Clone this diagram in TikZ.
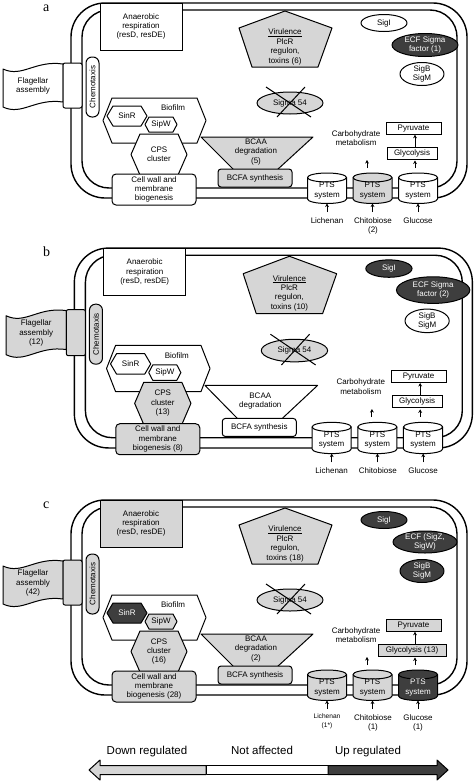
\documentclass[tikz,border=0pt]{standalone}
\usepackage{fontspec}
\setmainfont{Liberation Sans}
\newfontfamily\serifpanel{Liberation Serif}
\usetikzlibrary{arrows.meta}
\definecolor{lightg}{RGB}{214,214,214}
\definecolor{darkg}{RGB}{62,62,62}
\tikzset{
 st0/.style={fill=white,text=black},
 st1/.style={fill=lightg,text=black},
 st2/.style={fill=darkg,text=white},
 memb/.style={draw=black,line width=1.4pt},
 shp/.style={draw=black,line width=1pt,line join=round},
 lbl/.style={font=\fontsize{8}{9.4}\selectfont,align=center,inner sep=0pt},
 boxn/.style={lbl,draw=black,line width=1pt},
 arr/.style={-{Stealth[length=3.5pt,width=3.8pt]},line width=0.9pt},
 legtxt/.style={font=\fontsize{11.5}{13}\selectfont,inner sep=0pt,anchor=base},
 plet/.style={font=\serifpanel\fontsize{14}{16}\selectfont,inner sep=0pt,anchor=base west},
}
\newcommand\hexa[6]{%
 \path[shp,#1] (#2,{(#4+#5)/2}) -- ({#2+#6},#4) -- ({#3-#6},#4) -- (#3,{(#4+#5)/2}) -- ({#3-#6},#5) -- ({#2+#6},#5) -- cycle;}
\newcommand\ptscyl[3]{%
 \path[shp,#2] ({#1-19.5},177.5) -- ({#1-19.5},199)
   .. controls ({#1-19.5},201.5) and ({#1-10.8},203.5) .. (#1,203.5)
   .. controls ({#1+10.8},203.5) and ({#1+19.5},201.5) .. ({#1+19.5},199)
   -- ({#1+19.5},177.5)
   .. controls ({#1+19.5},175) and ({#1+10.8},173) .. (#1,173)
   .. controls ({#1-10.8},173) and ({#1-19.5},175) .. ({#1-19.5},177.5) -- cycle;
 \draw[shp] ({#1-19.5},177.5) .. controls ({#1-19.5},180) and ({#1-10.8},182) .. (#1,182)
   .. controls ({#1+10.8},182) and ({#1+19.5},180) .. ({#1+19.5},177.5);
 \node[lbl,#2,fill=none] (#3) at (#1,190.5) {PTS\\system};
 \coordinate (#3-bot) at (#1,203.5);
}
\newcommand\cellpanel{%
 \draw[memb,rounded corners=34pt] (71,3) rectangle (467,198);
 \draw[memb,rounded corners=27pt] (82,10) rectangle (457,188);
 % flagellar assembly
 \path[shp,zFl] (3,69) .. controls (22,78) and (35,60) .. (63,64) -- (63,102) .. controls (35,98) and (22,116) .. (3,107) -- cycle;
 \node[lbl,zFl,fill=none] (flag) at (33,86) {\tFl};
 \path[shp,zFl,rounded corners=2pt] (63,63) rectangle (82,108);
 \node[boxn,zCh,rounded corners=6pt,rotate=90,minimum width=60pt,minimum height=13pt] (chemo) at (92.5,87) {Chemotaxis};
 % anaerobic
 \node[boxn,zAn,minimum width=82pt,minimum height=47pt] (an) at (141,26.5) {Anaerobic\\respiration\\(resD, resDE)};
 % virulence
 \path[shp,zVi] (285,11) -- (332,28) -- (318,67) -- (252,67) -- (239,28) -- cycle;
 \node[lbl,zVi,fill=none] (vir) at (285,47) {\underline{Virulence}\\PlcR\\regulon,\\\tVi};
 % sigma factors
 \path[shp,zSI] (384,23) ellipse [x radius=23,y radius=8.5];
 \node[lbl,zSI,fill=none] (sigi) at (384,23) {SigI};
 \path[shp,zEC] (\ecfx,\ecfy) ellipse [x radius=\ecfrx,y radius=\ecfry];
 \node[lbl,zEC,fill=none] (ecf) at (\ecfx,\ecfy) {\tEC};
 \path[shp,zSB] (422,74) ellipse [x radius=22,y radius=11.5];
 \node[lbl,zSB,fill=none] (sigbm) at (422,74) {SigB\\SigM};
 \path[shp,zS5] (290,103) ellipse [x radius=33,y radius=11];
 \node[lbl,zS5,fill=none] (sig54) at (290,103) {Sigma 54};
 \coordinate (xa1) at (266,87); \coordinate (xa2) at (311,117);
 \coordinate (xb1) at (305,87); \coordinate (xb2) at (277,117);
 \draw[shp] (xa1) -- (xa2);
 \draw[shp] (xb1) -- (xb2);
 % biofilm
 \hexa{zBf}{103}{206}{98}{143}{9}
 \node[lbl,zBf,fill=none] (bio) at (173,108) {Biofilm};
 \hexa{zSR}{107}{147}{106}{126}{6}
 \node[lbl,zSR,fill=none] (sinr) at (127,116) {SinR};
 \hexa{zSW}{145}{177}{117}{132}{4}
 \node[lbl,zSW,fill=none] (sipw) at (161,124.5) {SipW};
 \hexa{zCP}{131}{187}{134}{175}{9}
 \node[lbl,zCP,fill=none] (cps) at (159,154.5) {\tCP};
 \node[boxn,zCW,rounded corners=4pt,minimum width=84pt,minimum height=31pt] (cw) at (154,189.5) {Cell wall and\\membrane\\\tCW};
 % BCAA / BCFA
 \path[shp,zBA] (201,137) -- (313,137) -- (277,170) -- (234,170) -- cycle;
 \node[lbl,zBA,fill=none] (bcaa) at (256,152) {\tBA};
 \node[boxn,zBF,rounded corners=3pt,minimum width=74pt,minimum height=18pt] (bcfa) at (255,178) {BCFA synthesis};
 % carbohydrate metabolism
 \node[lbl] (carb) at (356,138) {Carbohydrate\\metabolism};
 \node[boxn,zPy,minimum width=55pt,minimum height=11.5pt] (pyr) at (413.5,128.5) {Pyruvate};
 \node[boxn,zGl,minimum width=\wGl,minimum height=12pt] (gly) at (\xGl,153) {\tGl};
 % PTS systems
 \ptscyl{327}{zPL}{ptsl}
 \ptscyl{372.5}{zPC}{ptsc}
 \ptscyl{418}{zPG}{ptsg}
 \coordinate (ca) at (367,168); \coordinate (cb) at (367,160);
 \coordinate (ga) at (415,168);
 \draw[arr] (ca) -- (cb);
 \draw[arr,shorten >=1pt] (ga) -- (ga |- gly.south);
 \draw[arr] (ga |- gly.north) -- (ga |- pyr.south);
 % substrates
 \node[lbl,zLi,anchor=north] (lich) at (327,217) {\tLi};
 \node[lbl,anchor=north] (chit) at (373,217) {\tCh};
 \node[lbl,anchor=north] (gluc) at (418,217) {\tGu};
 \draw[arr] ([yshift=5pt]lich.north -| ptsl-bot) -- (ptsl-bot);
 \draw[arr] ([yshift=5pt]chit.north -| ptsc-bot) -- (ptsc-bot);
 \draw[arr] ([yshift=5pt]gluc.north -| ptsg-bot) -- (ptsg-bot);
}
\begin{document}
\begin{tikzpicture}[x=1pt,y=-1pt]
\useasboundingbox (0,0) rectangle (474,782);
% ---------------- panel a
\tikzset{zAn/.style=st0,zFl/.style=st0,zCh/.style=st0,zVi/.style=st1,zSI/.style=st0,
 zEC/.style=st2,zSB/.style=st0,zS5/.style=st1,zBf/.style=st0,zSR/.style=st0,zSW/.style=st0,
 zCP/.style=st0,zCW/.style=st0,zBA/.style=st1,zBF/.style=st1,zPy/.style=st0,zGl/.style=st0,
 zPL/.style=st0,zPC/.style=st1,zPG/.style=st0,zLi/.style={}}
\def\tFl{Flagellar\\assembly}\def\tVi{toxins (6)}\def\tEC{ECF Sigma\\factor (1)}
\def\tCP{CPS\\cluster}\def\tCW{biogenesis}\def\tBA{BCAA\\degradation\\(5)}
\def\tGl{Glycolysis}\def\wGl{50pt}\def\xGl{412}
\def\tLi{Lichenan}\def\tCh{Chitobiose\\(2)}\def\tGu{Glucose}
\def\ecfx{425}\def\ecfy{45}\def\ecfrx{33}\def\ecfry{11.5}
\begin{scope}[name prefix=a-]
\cellpanel
\end{scope}
% ---------------- panel b
\tikzset{zAn/.style=st0,zFl/.style=st1,zCh/.style=st1,zVi/.style=st1,zSI/.style=st2,
 zEC/.style=st2,zSB/.style=st0,zS5/.style=st1,zBf/.style=st0,zSR/.style=st0,zSW/.style=st0,
 zCP/.style=st1,zCW/.style=st1,zBA/.style=st0,zBF/.style=st0,zPy/.style=st0,zGl/.style=st0,
 zPL/.style=st0,zPC/.style=st0,zPG/.style=st0,zLi/.style={}}
\def\tFl{Flagellar\\assembly\\(12)}\def\tVi{toxins (10)}\def\tEC{ECF Sigma\\factor (2)}
\def\tCP{CPS\\cluster\\(13)}\def\tCW{biogenesis (8)}\def\tBA{BCAA\\degradation}
\def\tGl{Glycolysis}\def\wGl{50pt}\def\xGl{412}
\def\tLi{Lichenan}\def\tCh{Chitobiose}\def\tGu{Glucose}
\def\ecfx{428}\def\ecfy{44}\def\ecfrx{36.5}\def\ecfry{13}
\begin{scope}[shift={(3,245)},xscale=1.005,yscale=1.025,name prefix=b-]
\cellpanel
\end{scope}
% ---------------- panel c
\tikzset{zAn/.style=st1,zFl/.style=st1,zCh/.style=st1,zVi/.style=st1,zSI/.style=st2,
 zEC/.style=st2,zSB/.style=st2,zS5/.style=st1,zBf/.style=st0,zSR/.style=st2,zSW/.style=st1,
 zCP/.style=st1,zCW/.style=st1,zBA/.style=st1,zBF/.style=st1,zPy/.style=st1,zGl/.style=st1,
 zPL/.style=st1,zPC/.style=st1,zPG/.style=st2,zLi/.style={font=\fontsize{6.6}{8.6}\selectfont}}
\def\tFl{Flagellar\\assembly\\(42)}\def\tVi{toxins (18)}\def\tEC{ECF (SigZ,\\SigW)}
\def\tCP{CPS\\cluster\\(16)}\def\tCW{biogenesis (28)}\def\tBA{BCAA\\degradation\\(2)}
\def\tGl{Glycolysis (13)}\def\wGl{68pt}\def\xGl{412}
\def\tLi{Lichenan\\(1*)}\def\tCh{Chitobiose\\(1)}\def\tGu{Glucose\\(1)}
\def\ecfx{425}\def\ecfy{45}\def\ecfrx{32}\def\ecfry{11}
\begin{scope}[shift={(0,497)},name prefix=c-]
\cellpanel
\end{scope}
% ---------------- panel letters
\node[plet] (la) at (43,11) {a};
\node[plet] (lb) at (43,256) {b};
\node[plet] (lc) at (43,508.5) {c};
% ---------------- legend
\node[legtxt] (down) at (147,754) {Down regulated};
\node[legtxt] (nota) at (262,754) {Not affected};
\node[legtxt] (upr) at (368,754) {Up regulated};
\path[shp,fill=lightg] (89,770) -- (100,760) -- (100,765.5) -- (206,765.5) -- (206,774.5) -- (100,774.5) -- (100,780) -- cycle;
\path[shp,fill=white] (206,765.5) rectangle (328,774.5);
\path[shp,fill=darkg] (448,770) -- (437,760) -- (437,765.5) -- (328,765.5) -- (328,774.5) -- (437,774.5) -- (437,780) -- cycle;
\end{tikzpicture}
\end{document}
